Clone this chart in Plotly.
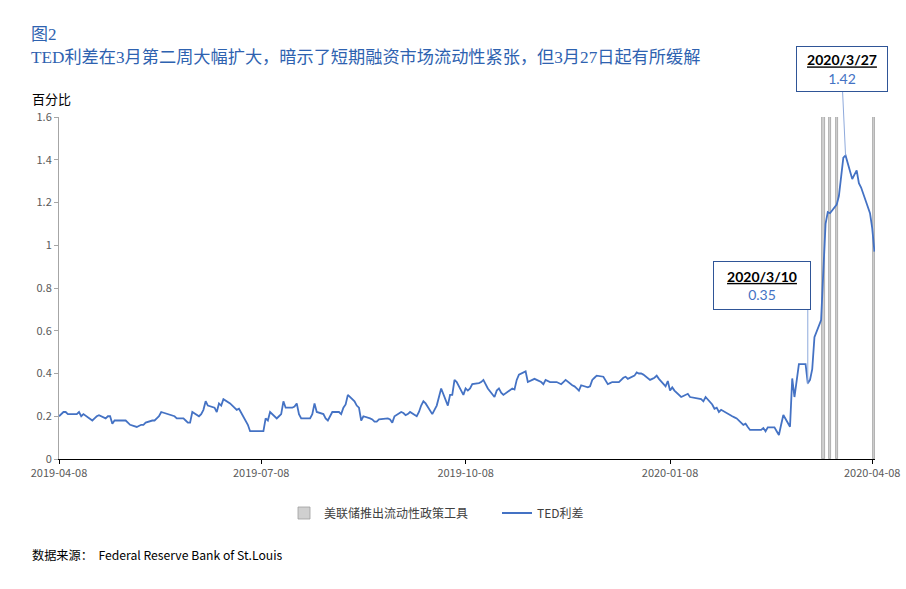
import pandas as pd
import plotly.graph_objects as go

# ---------------- text ----------------
title_line1 = "图2"
title_line2 = "TED利差在3月第二周大幅扩大，暗示了短期融资市场流动性紧张，但3月27日起有所缓解"
y_unit = "百分比"
source_text = "数据来源：  Federal Reserve Bank of St.Louis"
bar_name = "美联储推出流动性政策工具"
line_name = "TED利差"

# ---------------- data ----------------
# TED spread, one value per business day, 2019-04-08 .. 2020-04-09 (one row = one week)
ted_start = "2019-04-08"
ted_end = "2020-04-09"
ted_values = [
    0.20, 0.21, 0.22, 0.22, 0.21,
    0.21, 0.21, 0.22, 0.20, 0.21,
    0.19, 0.18, 0.19, 0.20, 0.205,
    0.19, 0.20, 0.20, 0.165, 0.18,
    0.18, 0.18, 0.18, 0.17, 0.16,
    0.15, 0.155, 0.16, 0.16, 0.17,
    0.18, 0.18, 0.19, 0.20, 0.22,
    0.21, 0.205, 0.20, 0.20, 0.19,
    0.19, 0.18, 0.17, 0.17, 0.22,
    0.20, 0.21, 0.23, 0.27, 0.25,
    0.24, 0.22, 0.26, 0.25, 0.28,
    0.26, 0.25, 0.24, 0.23, 0.235,
    0.175, 0.16, 0.13, 0.13, 0.13,
    0.13, 0.13, 0.19, 0.18, 0.22,
    0.19, 0.20, 0.21, 0.27, 0.24,
    0.24, 0.245, 0.26, 0.21, 0.19,
    0.19, 0.19, 0.21, 0.26, 0.22,
    0.21, 0.19, 0.18, 0.20, 0.22,
    0.22, 0.21, 0.24, 0.255, 0.30,
    0.27, 0.25, 0.24, 0.18, 0.20,
    0.19, 0.185, 0.175, 0.175, 0.185,
    0.19, 0.19, 0.185, 0.17, 0.20,
    0.22, 0.215, 0.205, 0.21, 0.22,
    0.20, 0.22, 0.25, 0.27, 0.26,
    0.21, 0.23, 0.25, 0.29, 0.33,
    0.25, 0.30, 0.30, 0.37, 0.36,
    0.30, 0.33, 0.32, 0.33, 0.35,
    0.355, 0.36, 0.37, 0.35, 0.33,
    0.29, 0.32, 0.33, 0.31, 0.30,
    0.32, 0.33, 0.325, 0.37, 0.395,
    0.41, 0.36, 0.365, 0.37, 0.375,
    0.36, 0.35, 0.37, 0.365, 0.36,
    0.36, 0.355, 0.35, 0.36, 0.37,
    0.345, 0.34, 0.33, 0.32, 0.345,
    0.335, 0.34, 0.37, 0.38, 0.39,
    0.385, 0.37, 0.35, 0.355, 0.36,
    0.36, 0.37, 0.38, 0.385, 0.375,
    0.39, 0.405, 0.40, 0.40, 0.395,
    0.37, 0.375, 0.38, 0.39, 0.375,
    0.34, 0.365, 0.32, 0.335, 0.32,
    0.29, 0.295, 0.30, 0.305, 0.29,
    0.285, 0.28, 0.28, 0.27, 0.29,
    0.255, 0.235, 0.24, 0.22, 0.23,
    0.21, 0.205, 0.20, 0.195, 0.19,
    0.16, 0.165, 0.15, 0.136, 0.136,
    0.136, 0.136, 0.145, 0.13, 0.148,
    0.148, 0.13, 0.112, 0.16, 0.206,
    0.151, 0.377, 0.29, 0.37, 0.444,
    0.444, 0.354, 0.37, 0.42, 0.57,
    0.65, 0.88, 1.10, 1.155, 1.15,
    1.19, 1.23, 1.32, 1.41, 1.42,
    1.31, 1.33, 1.35, 1.29, 1.27,
    1.18, 1.15, 1.08, 0.97,
]
ted_dates = pd.bdate_range(ted_start, ted_end)

# Fed liquidity tool announcements (full-height bars)
policy_dates = ["2020-03-17", "2020-03-20", "2020-03-23", "2020-04-09"]
policy_values = [1.6, 1.6, 1.6, 1.6]

# axis ticks
x_tick_vals = ["2019-04-08", "2019-07-08", "2019-10-08", "2020-01-08", "2020-04-08"]
x_tick_text = ["2019-04-08", "2019-07-08", "2019-10-08", "2020-01-08", "2020-04-08"]
y_tick_vals = [0, 0.2, 0.4, 0.6, 0.8, 1.0, 1.2, 1.4, 1.6]
y_tick_text = ["0", "0.2", "0.4", "0.6", "0.8", "1", "1.2", "1.4", "1.6"]

# call-outs
peak_date, peak_value, peak_label = "2020-03-27", 1.42, "2020/3/27"
mid_date, mid_value, mid_label = "2020-03-10", 0.35, "2020/3/10"

# ---------------- style ----------------
DAY_MS = 86400000
bar_widths = [1.4 * DAY_MS, 0.9 * DAY_MS, 0.9 * DAY_MS, 0.9 * DAY_MS]
blue_line = "#4472c4"
title_blue = "#2e62b0"
cjk = "Noto Sans CJK SC"

W, H = 906, 589
L, R, T, B = 59, 31, 117, 130
plot_h = H - T - B


def py(px):
    """pixel row -> paper y"""
    return (H - B - px) / plot_h


def px_x(px):
    return (px - L) / (W - L - R)


fig = go.Figure()
fig.add_trace(go.Bar(
    x=policy_dates, y=policy_values, width=bar_widths, name=bar_name,
    marker=dict(color="#d0d0d0", line=dict(width=0.8, color="#a0a0a0")),
))
fig.add_trace(go.Scatter(
    x=ted_dates, y=ted_values, mode="lines", name=line_name,
    line=dict(color=blue_line, width=1.8),
))

annotations = [
    dict(text=title_line1, xref="paper", yref="paper", x=px_x(29), y=py(34),
         xanchor="left", yanchor="middle", showarrow=False,
         font=dict(family="Liberation Serif, " + cjk, size=17, color=title_blue)),
    dict(text=title_line2, xref="paper", yref="paper", x=px_x(29), y=py(58),
         xanchor="left", yanchor="middle", showarrow=False,
         font=dict(family="Liberation Serif, " + cjk, size=17.2, color=title_blue)),
    dict(text=y_unit, xref="paper", yref="paper", x=px_x(30), y=py(98),
         xanchor="left", yanchor="middle", showarrow=False,
         font=dict(family=cjk, size=13, color="#000000")),
    dict(text=source_text, xref="paper", yref="paper", x=px_x(30), y=py(555),
         xanchor="left", yanchor="middle", showarrow=False,
         font=dict(family=cjk, size=12.2, color="#000000")),
    # peak call-out
    dict(text="<b><u>%s</u></b><br><span style='color:%s'>%.2f</span>" % (peak_label, blue_line, peak_value),
         x=peak_date, y=peak_value, xref="x", yref="y",
         showarrow=True, arrowhead=0, arrowwidth=1, arrowcolor="#8faadc",
         ax=-4, ay=-86, standoff=0,
         width=86, height=40, borderpad=2, bordercolor="#2f5597", borderwidth=1,
         bgcolor="#ffffff", align="center",
         font=dict(family="Lato, " + cjk, size=14, color="#000000")),
    # 3/10 call-out (box to the left of the leader line)
    dict(text="<b><u>%s</u></b><br><span style='color:%s'>%.2f</span>" % (mid_label, blue_line, mid_value),
         x=mid_date, y=0.814, xref="x", yref="y", xanchor="right", yanchor="middle",
         xshift=3, showarrow=False,
         width=92, height=43, borderpad=2, bordercolor="#2f5597", borderwidth=1,
         bgcolor="#ffffff", align="center",
         font=dict(family="Lato, " + cjk, size=14, color="#000000")),
]

shapes = [
    dict(type="line", xref="x", yref="y", x0=mid_date, x1=mid_date,
         y0=mid_value, y1=0.753, line=dict(color="#8faadc", width=1)),
]

fig.update_layout(
    width=W, height=H,
    margin=dict(l=L, r=R, t=T, b=B, pad=0),
    paper_bgcolor="#ffffff", plot_bgcolor="#ffffff",
    font=dict(family=cjk, size=11, color="#595959"),
    showlegend=True,
    legend=dict(orientation="h", x=px_x(284), y=py(513), xanchor="left", yanchor="middle",
                font=dict(family=cjk, size=12, color="#404040"),
                itemwidth=30, entrywidth=168, entrywidthmode="pixels",
                traceorder="normal", bgcolor="rgba(0,0,0,0)"),
    bargap=0,
    annotations=annotations,
    shapes=shapes,
    xaxis=dict(
        type="date", range=["2019-04-08", "2020-04-09T06:00"],
        tickvals=x_tick_vals, ticktext=x_tick_text,
        ticks="outside", ticklen=4, tickcolor="#000000",
        showline=True, linecolor="#000000", linewidth=1,
        showgrid=False, zeroline=False, automargin=False,
        tickfont=dict(family=cjk, size=11, color="#595959"),
    ),
    yaxis=dict(
        range=[0, 1.6], tickvals=y_tick_vals, ticktext=y_tick_text,
        ticks="outside", ticklen=4, tickcolor="#a6a6a6",
        showline=True, linecolor="#a6a6a6", linewidth=1,
        showgrid=False, zeroline=False, automargin=False,
        tickfont=dict(family=cjk, size=11, color="#595959"),
    ),
)

fig.write_html("out.html")
